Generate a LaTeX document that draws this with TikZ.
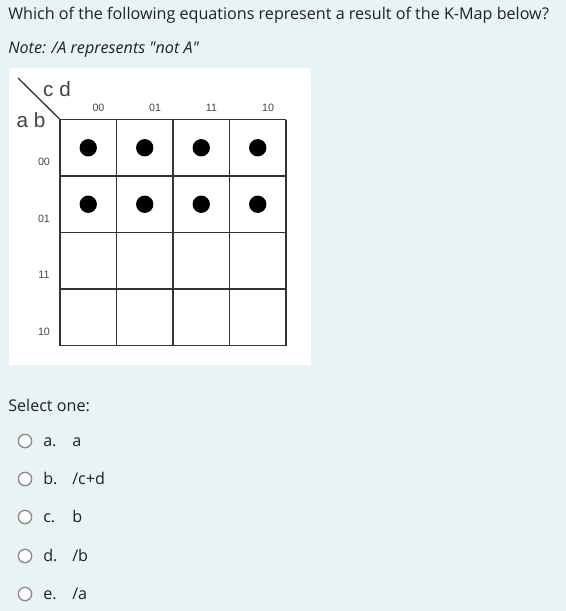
\documentclass[tikz,border=0pt]{standalone}
\usepackage{fontspec}
\setmainfont{Open Sans}[Ligatures=TeXOff]
\newfontfamily\mapfont{Liberation Sans}
\usetikzlibrary{positioning}
\definecolor{pagebg}{HTML}{E7F3F5}
\definecolor{maptext}{HTML}{444444}
\definecolor{gridgray}{HTML}{333333}
\definecolor{radiogray}{HTML}{8A8A8A}
\newcommand{\notsl}{/}

\begin{document}
\begin{tikzpicture}[x=0.75pt,y=-0.75pt]
		\tikzset{txt/.style = {anchor=base west, inner sep=0pt, font=\fontsize{12.1}{14}\selectfont, text=black!87}}
		\tikzset{maplbl/.style = {inner sep=0pt, font=\mapfont\fontsize{8}{9}\selectfont, text=maptext}}
		\tikzset{varlbl/.style = {inner sep=0pt, font=\mapfont\fontsize{15.5}{17}\selectfont, text=maptext}}
		\tikzset{gridline/.style = {draw=gridgray, line width=1pt}}
		\tikzset{dot/.style = {shape=circle, fill=black, inner sep=0pt, minimum size=13pt}}
		\tikzset{radio/.style = {shape=circle, draw=radiogray, fill=white, line width=1pt, inner sep=0pt, minimum size=10pt}}

		\fill[pagebg] (0,0) rectangle (566,611);
		\fill[white] (9,68) rectangle (311,365);

		\node[txt] (question) at (8,19) {Which of the following equations represent a result of the K-Map below?};
		\node[txt, font=\fontsize{12.1}{14}\selectfont\itshape] (note) at (8,53) {Note: /A represents "not A"};

		\coordinate (slash) at (18,78);
		\coordinate (corner) at (60,119.5);
		\draw[gridline] (slash) -- (corner);
		\node[varlbl] (cd) at (57,89) {c d};
		\node[varlbl] (ab) at (31,120) {a b};

		\foreach \i in {0,...,4} {
			\draw[gridline] (60+56.5*\i,119.5) -- (60+56.5*\i,345.5);
			\draw[gridline] (60,119.5+56.5*\i) -- (286,119.5+56.5*\i);
		}

		\foreach \c [count=\i from 0] in {00,01,11,10} {
			\node[maplbl] (col\c) at (98.5+56.5*\i,108) {\c};
			\node[maplbl] (row\c) at (44,162+56.5*\i) {\c};
		}

		\foreach \r in {0,1}
			\foreach \c in {0,...,3}
				\node[dot] (dot\r\c) at (88.25+56.5*\c,147.75+56.5*\r) {};

		\node[txt] (select) at (8,411) {Select one:};

		\foreach \o/\a/\y in {a/a/446, b/\notsl c+d/484, c/b/522, d/\notsl b/561, e/\notsl a/599} {
			\node[radio] (radio\o) at (25,\y-5) {};
			\node[txt] (key\o) at (43,\y) {\o.};
			\node[txt] (ans\o) at (72,\y) {\a};
		}

	\end{tikzpicture}
\end{document}
